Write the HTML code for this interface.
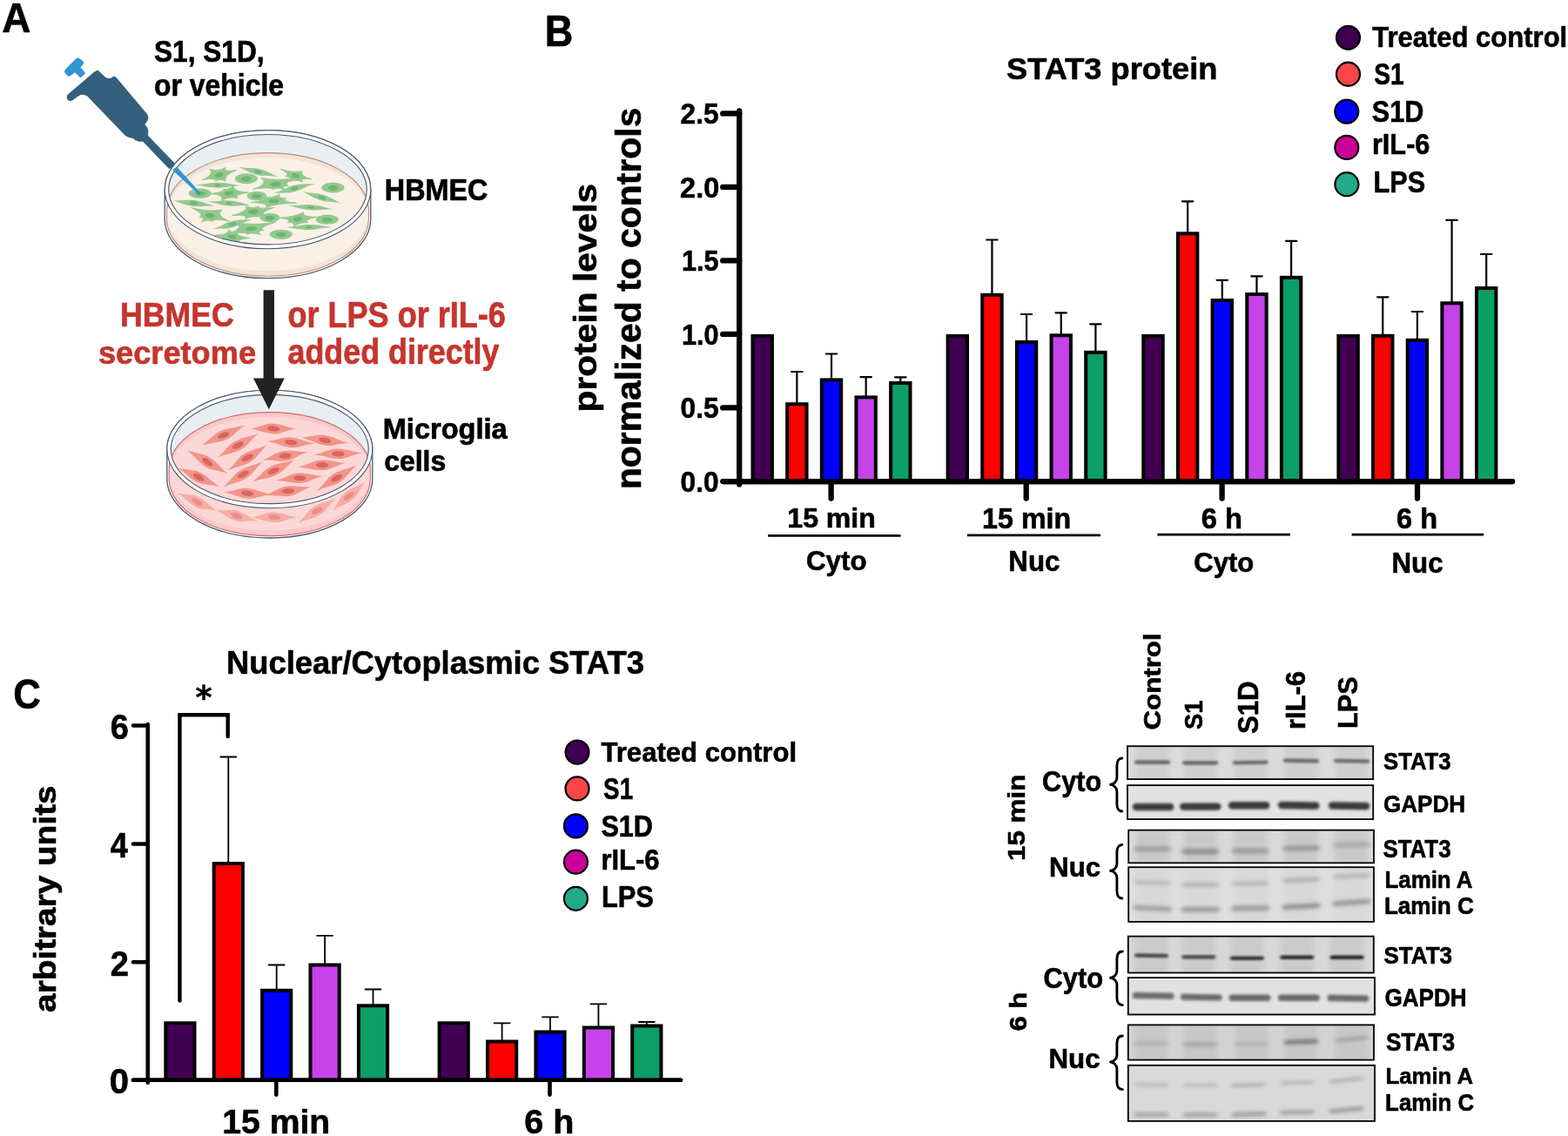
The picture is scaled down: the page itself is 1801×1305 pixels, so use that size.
<!DOCTYPE html>
<html lang="en">
<head>
<meta charset="utf-8">
<title>STAT3 protein figure</title>
<style>
html,body{margin:0;padding:0;background:#fff;}
body{width:1801px;height:1305px;overflow:hidden;}
svg{display:block;}
text{font-family:"Liberation Sans", Arial, Helvetica, sans-serif;font-weight:bold;}
</style>
</head>
<body>
<svg width="1801" height="1305" viewBox="0 0 1801 1305">
<rect width="1801" height="1305" fill="#fff"/>
<g id="panelA">
<text x="2.2" y="36.5" font-size="47.42" textLength="33.09" lengthAdjust="spacingAndGlyphs" stroke="#000" stroke-width="0.7" stroke-linejoin="round">A</text>
<text x="177.0" y="70.5" font-size="35.23" textLength="126.55" lengthAdjust="spacingAndGlyphs" stroke="#000" stroke-width="0.7" stroke-linejoin="round">S1, S1D,</text>
<text x="177.1" y="109.5" font-size="35.01" textLength="149.01" lengthAdjust="spacingAndGlyphs" stroke="#000" stroke-width="0.7" stroke-linejoin="round">or vehicle</text>
<text x="441.8" y="230.3" font-size="35.05" textLength="118.56" lengthAdjust="spacingAndGlyphs" stroke="#000" stroke-width="0.7" stroke-linejoin="round">HBMEC</text>
<text x="439.7" y="503.8" font-size="34.03" textLength="143.01" lengthAdjust="spacingAndGlyphs" stroke="#000" stroke-width="0.7" stroke-linejoin="round">Microglia</text>
<text x="441.2" y="541.4" font-size="33.66" textLength="71.02" lengthAdjust="spacingAndGlyphs" stroke="#000" stroke-width="0.7" stroke-linejoin="round">cells</text>
<text x="138.1" y="375.4" font-size="39.14" fill="#c5352d" textLength="130.57" lengthAdjust="spacingAndGlyphs" stroke="#c5352d" stroke-width="0.7" stroke-linejoin="round">HBMEC</text>
<text x="113.0" y="418.0" font-size="37.16" fill="#c5352d" textLength="181.01" lengthAdjust="spacingAndGlyphs" stroke="#c5352d" stroke-width="0.7" stroke-linejoin="round">secretome</text>
<text x="330.4" y="375.9" font-size="41.95" fill="#c5352d" textLength="250.51" lengthAdjust="spacingAndGlyphs" stroke="#c5352d" stroke-width="0.7" stroke-linejoin="round">or LPS or rIL-6</text>
<text x="330.5" y="418.3" font-size="40.26" fill="#c5352d" textLength="243.0" lengthAdjust="spacingAndGlyphs" stroke="#c5352d" stroke-width="0.7" stroke-linejoin="round">added directly</text>
<path d="M189.2 217.7 V251.7 A118.3 68.0 0 0 0 425.8 251.7 V217.7 A118.3 68.0 0 0 0 189.2 217.7Z" fill="#fdfdfd" stroke="#4a5968" stroke-width="1.3"/>
<ellipse cx="307.5" cy="217.7" rx="113.8" ry="63.2" fill="#e8eef1"/>
<clipPath id="d1dc"><path d="M189.2 217.7 V251.7 A118.3 68.0 0 0 0 425.8 251.7 V217.7 A118.3 68.0 0 0 0 189.2 217.7Z"/></clipPath>
<clipPath id="d1mc"><path d="M191.60000000000002 241.2 V251.7 A115.89999999999999 65.6 0 0 0 423.4 251.7 V241.2 A115.89999999999999 65.6 0 0 0 191.60000000000002 241.2Z"/></clipPath>
<clipPath id="d1ic"><ellipse cx="307.5" cy="217.7" rx="113.8" ry="63.2"/></clipPath>
<g clip-path="url(#d1dc)">
<g clip-path="url(#d1mc)">
<path d="M191.60000000000002 241.2 V251.7 A115.89999999999999 65.6 0 0 0 423.4 251.7 V241.2 A115.89999999999999 65.6 0 0 0 191.60000000000002 241.2Z" fill="#fbf0e5"/>
<path d="M191.60000000000002 241.2 A115.89999999999999 65.6 0 0 1 423.4 241.2 V246.7 A115.89999999999999 65.6 0 0 0 191.60000000000002 246.7Z" fill="#f2e3d6"/>
<path d="M191.60000000000002 251.7 A115.89999999999999 65.6 0 0 0 423.4 251.7 V245.7 A115.89999999999999 65.6 0 0 1 191.60000000000002 245.7Z" fill="#f2e3d6"/>
<g clip-path="url(#d1ic)">
<g transform="translate(296.7 197.5) rotate(14)"><path d="M-23.0 0.0 C-10.3 -1.1 -8.0 -3.5 0 -3.5 C9.2 -3.5 11.5 -2.1 23.0 -0.0 C10.3 1.1 8.0 3.5 0 3.5 C-9.2 3.5 -11.5 2.1 -23.0 0.0Z" fill="#92c990"/><ellipse cx="0" cy="0" rx="4.3" ry="1.9" fill="#6fb56d"/></g>
<g transform="translate(250.0 212.7) rotate(1)"><path d="M-26.0 0.0 C-11.7 -0.9 -9.1 -3.0 0 -3.0 C10.4 -3.0 13.0 -1.8 26.0 -0.0 C11.7 0.9 9.1 3.0 0 3.0 C-10.4 3.0 -13.0 1.8 -26.0 0.0Z" fill="#92c990"/><ellipse cx="0" cy="0" rx="3.7" ry="1.6" fill="#6fb56d"/></g>
<g transform="translate(338.3 216.5) rotate(-13)"><path d="M-24.0 0.0 C-10.8 -1.1 -8.4 -3.5 0 -3.5 C9.6 -3.5 12.0 -2.1 24.0 -0.0 C10.8 1.1 8.4 3.5 0 3.5 C-9.6 3.5 -12.0 2.1 -24.0 0.0Z" fill="#92c990"/><ellipse cx="0" cy="0" rx="4.3" ry="1.9" fill="#6fb56d"/></g>
<g transform="translate(370.0 227.0) rotate(17)"><path d="M-23.0 0.0 C-10.3 -1.1 -8.0 -3.5 0 -3.5 C9.2 -3.5 11.5 -2.1 23.0 -0.0 C10.3 1.1 8.0 3.5 0 3.5 C-9.2 3.5 -11.5 2.1 -23.0 0.0Z" fill="#92c990"/><ellipse cx="0" cy="0" rx="4.3" ry="1.9" fill="#6fb56d"/></g>
<g transform="translate(222.5 233.5) rotate(8)"><path d="M-24.0 0.0 C-10.8 -1.1 -8.4 -3.5 0 -3.5 C9.6 -3.5 12.0 -2.1 24.0 -0.0 C10.8 1.1 8.4 3.5 0 3.5 C-9.6 3.5 -12.0 2.1 -24.0 0.0Z" fill="#92c990"/><ellipse cx="0" cy="0" rx="4.3" ry="1.9" fill="#6fb56d"/></g>
<g transform="translate(263.3 233.5) rotate(5)"><path d="M-25.0 0.0 C-11.2 -0.9 -8.8 -3.0 0 -3.0 C10.0 -3.0 12.5 -1.8 25.0 -0.0 C11.2 0.9 8.8 3.0 0 3.0 C-10.0 3.0 -12.5 1.8 -25.0 0.0Z" fill="#92c990"/><ellipse cx="0" cy="0" rx="3.7" ry="1.6" fill="#6fb56d"/></g>
<g transform="translate(357.0 238.3) rotate(5)"><path d="M-26.0 0.0 C-11.7 -0.9 -9.1 -3.0 0 -3.0 C10.4 -3.0 13.0 -1.8 26.0 -0.0 C11.7 0.9 9.1 3.0 0 3.0 C-10.4 3.0 -13.0 1.8 -26.0 0.0Z" fill="#92c990"/><ellipse cx="0" cy="0" rx="3.7" ry="1.6" fill="#6fb56d"/></g>
<g transform="translate(267.0 257.5) rotate(-14)"><path d="M-23.0 0.0 C-10.3 -1.1 -8.0 -3.5 0 -3.5 C9.2 -3.5 11.5 -2.1 23.0 -0.0 C10.3 1.1 8.0 3.5 0 3.5 C-9.2 3.5 -11.5 2.1 -23.0 0.0Z" fill="#92c990"/><ellipse cx="0" cy="0" rx="4.3" ry="1.9" fill="#6fb56d"/></g>
<g transform="translate(355.0 261.0) rotate(0)"><path d="M-26.0 0.0 C-11.7 -0.9 -9.1 -3.0 0 -3.0 C10.4 -3.0 13.0 -1.8 26.0 -0.0 C11.7 0.9 9.1 3.0 0 3.0 C-10.4 3.0 -13.0 1.8 -26.0 0.0Z" fill="#92c990"/><ellipse cx="0" cy="0" rx="3.7" ry="1.6" fill="#6fb56d"/></g>
<g transform="translate(251.7 201.0) rotate(-8)"><path d="M20.3 -2.7 Q4.3 1.4 6.3 8.2 Q0.2 3.7 -4.8 6.5 Q-4.0 2.4 -20.0 2.9 Q-4.8 -1.3 -9.9 -8.3 Q-0.2 -3.9 8.6 -7.4 Q4.6 -2.5 20.3 -2.7Z" fill="#92c990" stroke="#92c990" stroke-width="0.8" stroke-linejoin="round"/><ellipse cx="0" cy="0" rx="5.0" ry="3.0" fill="#6fb56d"/></g>
<g transform="translate(339.5 202.0) rotate(10)"><path d="M9.1 5.6 Q0.6 3.3 -5.4 7.8 Q-2.7 2.6 -11.7 2.4 Q-4.8 -0.5 -18.5 -4.6 Q-2.0 -2.8 6.3 -6.6 Q4.0 -1.4 18.6 0.8 Q4.4 1.6 9.1 5.6Z" fill="#92c990" stroke="#92c990" stroke-width="0.8" stroke-linejoin="round"/><ellipse cx="0" cy="0" rx="4.6" ry="2.6" fill="#6fb56d"/></g>
<g transform="translate(316.7 211.5) rotate(-3)"><path d="M-26.6 4.6 Q-6.9 -0.8 -16.4 -7.9 Q1.4 -3.4 25.2 -5.8 Q6.4 -0.8 14.9 2.8 Q4.2 2.5 11.3 7.3 Q1.2 3.3 -3.8 6.0 Q-4.9 2.6 -26.6 4.6Z" fill="#92c990" stroke="#92c990" stroke-width="0.8" stroke-linejoin="round"/><ellipse cx="0" cy="0" rx="6.2" ry="2.6" fill="#6fb56d"/></g>
<g transform="translate(263.0 222.0) rotate(-8)"><path d="M9.1 7.0 Q-0.1 3.5 -9.7 7.1 Q-4.9 1.1 -21.2 -2.5 Q-4.3 -2.0 -5.8 -5.7 Q0.1 -3.4 6.2 -7.9 Q4.6 -1.4 22.4 2.2 Q5.0 2.3 9.1 7.0Z" fill="#92c990" stroke="#92c990" stroke-width="0.8" stroke-linejoin="round"/><ellipse cx="0" cy="0" rx="5.3" ry="2.6" fill="#6fb56d"/></g>
<g transform="translate(314.5 231.0) rotate(-5)"><path d="M-12.9 -5.5 Q-0.8 -3.2 7.6 -7.5 Q3.6 -2.4 14.8 -2.2 Q6.5 0.6 25.9 4.6 Q2.6 2.8 -9.3 6.6 Q-5.7 1.5 -26.5 -0.7 Q-6.3 -1.5 -12.9 -5.5Z" fill="#92c990" stroke="#92c990" stroke-width="0.8" stroke-linejoin="round"/><ellipse cx="0" cy="0" rx="6.2" ry="2.6" fill="#6fb56d"/></g>
<g transform="translate(240.8 247.5) rotate(5)"><path d="M3.2 6.7 Q-0.9 3.8 -9.1 8.7 Q-3.3 3.0 -11.5 3.1 Q-5.4 -1.0 -22.0 -7.1 Q-1.3 -3.7 13.8 -7.8 Q5.9 -0.8 23.0 4.5 Q4.2 2.8 3.2 6.7Z" fill="#92c990" stroke="#92c990" stroke-width="0.8" stroke-linejoin="round"/><ellipse cx="0" cy="0" rx="5.3" ry="3.0" fill="#6fb56d"/></g>
<g transform="translate(291.0 243.3) rotate(-5)"><path d="M-24.8 2.2 Q-5.2 -1.3 -7.9 -7.6 Q-0.2 -3.3 6.4 -5.5 Q5.0 -2.1 25.0 -2.9 Q5.9 1.2 11.8 7.7 Q0.3 3.7 -9.8 7.1 Q-5.5 2.3 -24.8 2.2Z" fill="#92c990" stroke="#92c990" stroke-width="0.8" stroke-linejoin="round"/><ellipse cx="0" cy="0" rx="6.2" ry="2.6" fill="#6fb56d"/></g>
<g transform="translate(342.0 251.7) rotate(-8)"><path d="M11.2 5.7 Q0.8 3.5 -6.1 8.3 Q-2.9 2.7 -12.2 2.3 Q-5.3 -0.5 -21.0 -4.5 Q-2.2 -2.9 7.5 -7.0 Q4.8 -1.6 22.7 0.7 Q5.4 1.6 11.2 5.7Z" fill="#92c990" stroke="#92c990" stroke-width="0.8" stroke-linejoin="round"/><ellipse cx="0" cy="0" rx="5.3" ry="2.6" fill="#6fb56d"/></g>
<g transform="translate(288.5 262.7) rotate(-3)"><path d="M-27.4 4.5 Q-7.0 -0.8 -16.4 -7.8 Q2.0 -3.4 28.9 -6.0 Q6.9 -0.8 14.5 2.7 Q4.1 2.6 11.0 7.8 Q1.1 3.6 -4.4 6.4 Q-5.1 2.7 -27.4 4.5Z" fill="#92c990" stroke="#92c990" stroke-width="0.8" stroke-linejoin="round"/><ellipse cx="0" cy="0" rx="6.7" ry="2.6" fill="#6fb56d"/></g>
<g transform="translate(266.7 272.0) rotate(12)"><path d="M-20.1 2.4 Q-4.1 -1.2 -5.6 -7.2 Q-0.1 -3.1 4.8 -5.3 Q4.1 -2.0 20.5 -2.8 Q4.7 1.2 9.0 7.5 Q0.1 3.4 -8.0 6.3 Q-4.5 2.2 -20.1 2.4Z" fill="#92c990" stroke="#92c990" stroke-width="0.8" stroke-linejoin="round"/><ellipse cx="0" cy="0" rx="4.8" ry="2.6" fill="#6fb56d"/></g>
<ellipse cx="282.8" cy="205.3" rx="13" ry="6" fill="#92c990"/><ellipse cx="282.8" cy="205.60000000000002" rx="5.9" ry="3.0" fill="#6fb56d"/>
<ellipse cx="229.7" cy="222.2" rx="13" ry="5.6" fill="#92c990"/><ellipse cx="229.7" cy="222.5" rx="5.9" ry="2.8" fill="#6fb56d"/>
<ellipse cx="382.5" cy="215.5" rx="13" ry="6" fill="#92c990"/><ellipse cx="382.5" cy="215.8" rx="5.9" ry="3.0" fill="#6fb56d"/>
<ellipse cx="375.8" cy="252.2" rx="13" ry="5.6" fill="#92c990"/><ellipse cx="375.8" cy="252.5" rx="5.9" ry="2.8" fill="#6fb56d"/>
<ellipse cx="322.8" cy="269.3" rx="13" ry="5.6" fill="#92c990"/><ellipse cx="322.8" cy="269.6" rx="5.9" ry="2.8" fill="#6fb56d"/>
<ellipse cx="295" cy="225" rx="11.5" ry="5.2" fill="#92c990"/><ellipse cx="295" cy="225.3" rx="5.2" ry="2.6" fill="#6fb56d"/>
<ellipse cx="310" cy="250" rx="11.5" ry="5.2" fill="#92c990"/><ellipse cx="310" cy="250.3" rx="5.2" ry="2.6" fill="#6fb56d"/>
</g>
</g>
<path d="M191.60000000000002 241.2 V251.7 A115.89999999999999 65.6 0 0 0 423.4 251.7 V241.2 A115.89999999999999 65.6 0 0 0 191.60000000000002 241.2Z" fill="none" stroke="#bd8b73" stroke-width="1.1"/>
</g>
<path d="M189.2 217.7 A118.3 68.0 0 1 0 425.8 217.7 A118.3 68.0 0 1 0 189.2 217.7Z M193.7 217.7 A113.8 63.2 0 1 1 421.3 217.7 A113.8 63.2 0 1 1 193.7 217.7Z" fill="#fff" fill-rule="evenodd" stroke="#4a5968" stroke-width="1.1"/>
<path d="M111 81 Q112.5 80.3 114 82 L120.5 88.2 Q124.8 91.8 129 88.6 Q131.6 86.6 134 89.4 L168.6 130.6 Q171.6 134.6 169.6 138.4 L166.4 143 Q171.2 147.6 170.2 153.4 L170.2 156 L200.5 187.2 Q201.3 188.4 200.3 189.4 L195.6 193.4 Q194.4 194.2 193.4 193.2 L164 162.4 Q158 164 153 159 Q147 158.6 143.6 155.6 L100.2 110.4 Q95.4 107.4 90.2 110.2 L83.6 115 Q80 117.2 77.6 114.4 Q75.4 111.4 78.2 108.2 L108.4 82.4 Z" fill="#35607d"/>
<path d="M198.7 195.5 L202.9 191.9 L230.2 221.9 L228.6 223.3 Z" fill="#2e96d5" stroke="#2e96d5" stroke-width="0.8" stroke-linejoin="round"/>
<path d="M75.2 79.4 L87.2 67.4 Q89.4 65.6 91.6 67.2 L95.6 70.4 Q97.2 72.2 95.6 74 L92.4 77.2 L97.6 83.2 Q98.2 84.2 97.4 85 L93.2 88.8 Q92.2 89.4 91.4 88.6 L86 83.2 L81 87 Q79 88.4 77.2 86.8 L74.8 84 Q73.2 81.6 75.2 79.4 Z" fill="#2e96d5"/>
<path d="M191.8 516.0 V550.3 A118.0 67.7 0 0 0 427.8 550.3 V516.0 A118.0 67.7 0 0 0 191.8 516.0Z" fill="#fdfdfd" stroke="#4a5968" stroke-width="1.3"/>
<ellipse cx="309.8" cy="516.0" rx="113.5" ry="62.6" fill="#e8eef1"/>
<clipPath id="d2dc"><path d="M191.8 516.0 V550.3 A118.0 67.7 0 0 0 427.8 550.3 V516.0 A118.0 67.7 0 0 0 191.8 516.0Z"/></clipPath>
<clipPath id="d2mc"><path d="M194.20000000000002 538.9 V550.3 A115.6 65.3 0 0 0 425.4 550.3 V538.9 A115.6 65.3 0 0 0 194.20000000000002 538.9Z"/></clipPath>
<clipPath id="d2ic"><ellipse cx="309.8" cy="516.0" rx="113.5" ry="62.6"/></clipPath>
<g clip-path="url(#d2dc)">
<g clip-path="url(#d2mc)">
<path d="M194.20000000000002 538.9 V550.3 A115.6 65.3 0 0 0 425.4 550.3 V538.9 A115.6 65.3 0 0 0 194.20000000000002 538.9Z" fill="#fbd8d7"/>
<path d="M194.20000000000002 538.9 A115.6 65.3 0 0 1 425.4 538.9 V544.4 A115.6 65.3 0 0 0 194.20000000000002 544.4Z" fill="#f9c9c9"/>
<path d="M194.20000000000002 550.3 A115.6 65.3 0 0 0 425.4 550.3 V544.3 A115.6 65.3 0 0 1 194.20000000000002 544.3Z" fill="#f9c9c9"/>
<g transform="translate(226.7 576.7) rotate(30)"><path d="M-25.0 2.5 C-11.2 -1.7 -8.8 -5.8 0 -5.8 C10.0 -5.8 12.5 -3.4 25.0 -2.5 C11.2 1.7 8.8 5.8 0 5.8 C-10.0 5.8 -12.5 3.4 -25.0 2.5Z" fill="#f5ada6"/><ellipse cx="0" cy="0" rx="7.1" ry="3.1" fill="#e98f8a"/></g>
<g transform="translate(271.7 592.5) rotate(20)"><path d="M-25.0 2.5 C-11.2 -1.7 -8.8 -5.8 0 -5.8 C10.0 -5.8 12.5 -3.4 25.0 -2.5 C11.2 1.7 8.8 5.8 0 5.8 C-10.0 5.8 -12.5 3.4 -25.0 2.5Z" fill="#f5ada6"/><ellipse cx="0" cy="0" rx="7.1" ry="3.1" fill="#e98f8a"/></g>
<g transform="translate(315.0 594.2) rotate(5)"><path d="M-26.0 2.5 C-11.7 -1.7 -9.1 -5.8 0 -5.8 C10.4 -5.8 13.0 -3.4 26.0 -2.5 C11.7 1.7 9.1 5.8 0 5.8 C-10.4 5.8 -13.0 3.4 -26.0 2.5Z" fill="#f5ada6"/><ellipse cx="0" cy="0" rx="7.1" ry="3.1" fill="#e98f8a"/></g>
<g transform="translate(364.2 586.7) rotate(-28)"><path d="M-26.0 2.5 C-11.7 -1.7 -9.1 -5.8 0 -5.8 C10.4 -5.8 13.0 -3.4 26.0 -2.5 C11.7 1.7 9.1 5.8 0 5.8 C-10.4 5.8 -13.0 3.4 -26.0 2.5Z" fill="#f5ada6"/><ellipse cx="0" cy="0" rx="7.1" ry="3.1" fill="#e98f8a"/></g>
<g transform="translate(400.8 570.0) rotate(-35)"><path d="M-25.0 2.5 C-11.2 -1.7 -8.8 -5.8 0 -5.8 C10.0 -5.8 12.5 -3.4 25.0 -2.5 C11.2 1.7 8.8 5.8 0 5.8 C-10.0 5.8 -12.5 3.4 -25.0 2.5Z" fill="#f5ada6"/><ellipse cx="0" cy="0" rx="7.1" ry="3.1" fill="#e98f8a"/></g>
<g clip-path="url(#d2ic)">
<g transform="translate(256.7 500.0) rotate(-20)"><path d="M-27.5 2.5 C-12.4 -1.7 -9.6 -5.8 0 -5.8 C11.0 -5.8 13.8 -3.4 27.5 -2.5 C12.4 1.7 9.6 5.8 0 5.8 C-11.0 5.8 -13.8 3.4 -27.5 2.5Z" fill="#f1948a"/><ellipse cx="0" cy="0" rx="7.1" ry="3.1" fill="#d9655f"/></g>
<g transform="translate(314.2 492.5) rotate(5)"><path d="M-26.0 2.5 C-11.7 -1.7 -9.1 -5.8 0 -5.8 C10.4 -5.8 13.0 -3.4 26.0 -2.5 C11.7 1.7 9.1 5.8 0 5.8 C-10.4 5.8 -13.0 3.4 -26.0 2.5Z" fill="#f1948a"/><ellipse cx="0" cy="0" rx="7.1" ry="3.1" fill="#d9655f"/></g>
<g transform="translate(373.3 505.8) rotate(12)"><path d="M-27.5 2.5 C-12.4 -1.7 -9.6 -5.8 0 -5.8 C11.0 -5.8 13.8 -3.4 27.5 -2.5 C12.4 1.7 9.6 5.8 0 5.8 C-11.0 5.8 -13.8 3.4 -27.5 2.5Z" fill="#f1948a"/><ellipse cx="0" cy="0" rx="7.1" ry="3.1" fill="#d9655f"/></g>
<g transform="translate(273.3 511.7) rotate(-25)"><path d="M-27.0 2.5 C-12.2 -1.7 -9.4 -5.8 0 -5.8 C10.8 -5.8 13.5 -3.4 27.0 -2.5 C12.2 1.7 9.4 5.8 0 5.8 C-10.8 5.8 -13.5 3.4 -27.0 2.5Z" fill="#f1948a"/><ellipse cx="0" cy="0" rx="7.1" ry="3.1" fill="#d9655f"/></g>
<g transform="translate(334.2 508.3) rotate(8)"><path d="M-27.0 2.5 C-12.2 -1.7 -9.4 -5.8 0 -5.8 C10.8 -5.8 13.5 -3.4 27.0 -2.5 C12.2 1.7 9.4 5.8 0 5.8 C-10.8 5.8 -13.5 3.4 -27.0 2.5Z" fill="#f1948a"/><ellipse cx="0" cy="0" rx="7.1" ry="3.1" fill="#d9655f"/></g>
<g transform="translate(388.3 521.3) rotate(3)"><path d="M-27.5 2.5 C-12.4 -1.7 -9.6 -5.8 0 -5.8 C11.0 -5.8 13.8 -3.4 27.5 -2.5 C12.4 1.7 9.6 5.8 0 5.8 C-11.0 5.8 -13.8 3.4 -27.5 2.5Z" fill="#f1948a"/><ellipse cx="0" cy="0" rx="7.1" ry="3.1" fill="#d9655f"/></g>
<g transform="translate(238.3 530.8) rotate(35)"><path d="M-27.0 2.5 C-12.2 -1.7 -9.4 -5.8 0 -5.8 C10.8 -5.8 13.5 -3.4 27.0 -2.5 C12.2 1.7 9.4 5.8 0 5.8 C-10.8 5.8 -13.5 3.4 -27.0 2.5Z" fill="#f1948a"/><ellipse cx="0" cy="0" rx="7.1" ry="3.1" fill="#d9655f"/></g>
<g transform="translate(284.2 525.8) rotate(-28)"><path d="M-27.0 2.5 C-12.2 -1.7 -9.4 -5.8 0 -5.8 C10.8 -5.8 13.5 -3.4 27.0 -2.5 C12.2 1.7 9.4 5.8 0 5.8 C-10.8 5.8 -13.5 3.4 -27.0 2.5Z" fill="#f1948a"/><ellipse cx="0" cy="0" rx="7.1" ry="3.1" fill="#d9655f"/></g>
<g transform="translate(327.5 523.7) rotate(-5)"><path d="M-27.0 2.5 C-12.2 -1.7 -9.4 -5.8 0 -5.8 C10.8 -5.8 13.5 -3.4 27.0 -2.5 C12.2 1.7 9.4 5.8 0 5.8 C-10.8 5.8 -13.5 3.4 -27.0 2.5Z" fill="#f1948a"/><ellipse cx="0" cy="0" rx="7.1" ry="3.1" fill="#d9655f"/></g>
<g transform="translate(370.0 534.2) rotate(0)"><path d="M-27.5 2.5 C-12.4 -1.7 -9.6 -5.8 0 -5.8 C11.0 -5.8 13.8 -3.4 27.5 -2.5 C12.4 1.7 9.6 5.8 0 5.8 C-11.0 5.8 -13.8 3.4 -27.5 2.5Z" fill="#f1948a"/><ellipse cx="0" cy="0" rx="7.1" ry="3.1" fill="#d9655f"/></g>
<g transform="translate(228.3 548.3) rotate(30)"><path d="M-26.0 2.5 C-11.7 -1.7 -9.1 -5.8 0 -5.8 C10.4 -5.8 13.0 -3.4 26.0 -2.5 C11.7 1.7 9.1 5.8 0 5.8 C-10.4 5.8 -13.0 3.4 -26.0 2.5Z" fill="#f1948a"/><ellipse cx="0" cy="0" rx="7.1" ry="3.1" fill="#d9655f"/></g>
<g transform="translate(279.2 545.0) rotate(-28)"><path d="M-27.0 2.5 C-12.2 -1.7 -9.4 -5.8 0 -5.8 C10.8 -5.8 13.5 -3.4 27.0 -2.5 C12.2 1.7 9.4 5.8 0 5.8 C-10.8 5.8 -13.5 3.4 -27.0 2.5Z" fill="#f1948a"/><ellipse cx="0" cy="0" rx="7.1" ry="3.1" fill="#d9655f"/></g>
<g transform="translate(314.2 540.8) rotate(-22)"><path d="M-27.0 2.5 C-12.2 -1.7 -9.4 -5.8 0 -5.8 C10.8 -5.8 13.5 -3.4 27.0 -2.5 C12.2 1.7 9.4 5.8 0 5.8 C-10.8 5.8 -13.5 3.4 -27.0 2.5Z" fill="#f1948a"/><ellipse cx="0" cy="0" rx="7.1" ry="3.1" fill="#d9655f"/></g>
<g transform="translate(344.2 549.2) rotate(0)"><path d="M-27.0 2.5 C-12.2 -1.7 -9.4 -5.8 0 -5.8 C10.8 -5.8 13.5 -3.4 27.0 -2.5 C12.2 1.7 9.4 5.8 0 5.8 C-10.8 5.8 -13.5 3.4 -27.0 2.5Z" fill="#f1948a"/><ellipse cx="0" cy="0" rx="7.1" ry="3.1" fill="#d9655f"/></g>
<g transform="translate(386.7 549.2) rotate(-28)"><path d="M-27.0 2.5 C-12.2 -1.7 -9.4 -5.8 0 -5.8 C10.8 -5.8 13.5 -3.4 27.0 -2.5 C12.2 1.7 9.4 5.8 0 5.8 C-10.8 5.8 -13.5 3.4 -27.0 2.5Z" fill="#f1948a"/><ellipse cx="0" cy="0" rx="7.1" ry="3.1" fill="#d9655f"/></g>
<g transform="translate(284.2 566.7) rotate(8)"><path d="M-27.0 2.5 C-12.2 -1.7 -9.4 -5.8 0 -5.8 C10.8 -5.8 13.5 -3.4 27.0 -2.5 C12.2 1.7 9.4 5.8 0 5.8 C-10.8 5.8 -13.5 3.4 -27.0 2.5Z" fill="#f1948a"/><ellipse cx="0" cy="0" rx="7.1" ry="3.1" fill="#d9655f"/></g>
<g transform="translate(330.8 564.2) rotate(-5)"><path d="M-27.0 2.5 C-12.2 -1.7 -9.4 -5.8 0 -5.8 C10.8 -5.8 13.5 -3.4 27.0 -2.5 C12.2 1.7 9.4 5.8 0 5.8 C-10.8 5.8 -13.5 3.4 -27.0 2.5Z" fill="#f1948a"/><ellipse cx="0" cy="0" rx="7.1" ry="3.1" fill="#d9655f"/></g>
</g>
</g>
<path d="M194.20000000000002 538.9 V550.3 A115.6 65.3 0 0 0 425.4 550.3 V538.9 A115.6 65.3 0 0 0 194.20000000000002 538.9Z" fill="none" stroke="#cf6a6e" stroke-width="1.1"/>
</g>
<path d="M191.8 516.0 A118.0 67.7 0 1 0 427.8 516.0 A118.0 67.7 0 1 0 191.8 516.0Z M196.3 516.0 A113.5 62.6 0 1 1 423.3 516.0 A113.5 62.6 0 1 1 196.3 516.0Z" fill="#fff" fill-rule="evenodd" stroke="#4a5968" stroke-width="1.1"/>
<path d="M302.6 333.3 H315 V434.4 H326.8 L308.8 470.2 L291 434.4 H302.6 Z" fill="#222"/>
</g>
<g id="panelB">
<text x="625.8" y="53.2" font-size="50.28" textLength="32.55" lengthAdjust="spacingAndGlyphs" stroke="#000" stroke-width="0.6" stroke-linejoin="round">B</text>
<text x="1156.0" y="91.4" font-size="35.47" textLength="242.52" lengthAdjust="spacingAndGlyphs" stroke="#000" stroke-width="0.6" stroke-linejoin="round">STAT3 protein</text>
<text x="684.9" y="473.4" font-size="37.78" textLength="262.54" lengthAdjust="spacingAndGlyphs" transform="rotate(-90 684.9 473.4)" stroke="#000" stroke-width="0.6" stroke-linejoin="round">protein levels</text>
<text x="736.2" y="562.1" font-size="40.6" textLength="438.53" lengthAdjust="spacingAndGlyphs" transform="rotate(-90 736.2 562.1)" stroke="#000" stroke-width="0.6" stroke-linejoin="round">normalized to controls</text>
<g stroke="#000" stroke-width="6.3" stroke-linecap="round" fill="none">
<path d="M849.2 127.3 V556.4"/>
<path d="M830.5 553.1 H1737"/>
<path d="M830.2 130.45 H849.2"/>
<path d="M830.2 214.95 H849.2"/>
<path d="M830.2 299.45 H849.2"/>
<path d="M830.2 383.95 H849.2"/>
<path d="M830.2 468.45 H849.2"/>
<path d="M954.6 553.1 V572.6"/>
<path d="M1178.7 553.1 V572.6"/>
<path d="M1403.6 553.1 V572.6"/>
<path d="M1628.0 553.1 V572.6"/>
</g>
<text x="781.6" y="142.0" font-size="33.69" textLength="44.03" lengthAdjust="spacingAndGlyphs" stroke="#000" stroke-width="0.6" stroke-linejoin="round">2.5</text>
<text x="781.1" y="226.5" font-size="33.69" textLength="45.11" lengthAdjust="spacingAndGlyphs" stroke="#000" stroke-width="0.6" stroke-linejoin="round">2.0</text>
<text x="783.0" y="311.0" font-size="33.69" textLength="42.59" lengthAdjust="spacingAndGlyphs" stroke="#000" stroke-width="0.6" stroke-linejoin="round">1.5</text>
<text x="783.0" y="395.5" font-size="33.69" textLength="42.64" lengthAdjust="spacingAndGlyphs" stroke="#000" stroke-width="0.6" stroke-linejoin="round">1.0</text>
<text x="781.6" y="480.0" font-size="33.69" textLength="44.03" lengthAdjust="spacingAndGlyphs" stroke="#000" stroke-width="0.6" stroke-linejoin="round">0.5</text>
<text x="781.6" y="564.5" font-size="33.69" textLength="44.06" lengthAdjust="spacingAndGlyphs" stroke="#000" stroke-width="0.6" stroke-linejoin="round">0.0</text>
<rect x="864.50" y="385.90" width="22.40" height="167.20" fill="#420052" stroke="#000" stroke-width="4.0"/>
<path d="M915.35 463.2 V427.0 M909.15 427.0 H921.55" stroke="#000" stroke-width="2.2" stroke-linecap="round" fill="none"/>
<rect x="904.15" y="464.20" width="22.40" height="88.90" fill="#ff0000" stroke="#000" stroke-width="4.0"/>
<path d="M955.00 435.4 V406.5 M948.80 406.5 H961.20" stroke="#000" stroke-width="2.2" stroke-linecap="round" fill="none"/>
<rect x="943.80" y="436.40" width="22.40" height="116.70" fill="#0000ff" stroke="#000" stroke-width="4.0"/>
<path d="M994.65 455.4 V433.2 M988.45 433.2 H1000.85" stroke="#000" stroke-width="2.2" stroke-linecap="round" fill="none"/>
<rect x="983.45" y="456.40" width="22.40" height="96.70" fill="#c543e8" stroke="#000" stroke-width="4.0"/>
<path d="M1034.30 439.0 V433.4 M1028.10 433.4 H1040.50" stroke="#000" stroke-width="2.2" stroke-linecap="round" fill="none"/>
<rect x="1023.10" y="440.00" width="22.40" height="113.10" fill="#0b9e66" stroke="#000" stroke-width="4.0"/>
<rect x="1088.60" y="385.90" width="22.40" height="167.20" fill="#420052" stroke="#000" stroke-width="4.0"/>
<path d="M1139.45 337.8 V275.5 M1133.25 275.5 H1145.65" stroke="#000" stroke-width="2.2" stroke-linecap="round" fill="none"/>
<rect x="1128.25" y="338.80" width="22.40" height="214.30" fill="#ff0000" stroke="#000" stroke-width="4.0"/>
<path d="M1179.10 392.0 V361.0 M1172.90 361.0 H1185.30" stroke="#000" stroke-width="2.2" stroke-linecap="round" fill="none"/>
<rect x="1167.90" y="393.00" width="22.40" height="160.10" fill="#0000ff" stroke="#000" stroke-width="4.0"/>
<path d="M1218.75 384.3 V359.3 M1212.55 359.3 H1224.95" stroke="#000" stroke-width="2.2" stroke-linecap="round" fill="none"/>
<rect x="1207.55" y="385.30" width="22.40" height="167.80" fill="#c543e8" stroke="#000" stroke-width="4.0"/>
<path d="M1258.40 403.8 V372.3 M1252.20 372.3 H1264.60" stroke="#000" stroke-width="2.2" stroke-linecap="round" fill="none"/>
<rect x="1247.20" y="404.80" width="22.40" height="148.30" fill="#0b9e66" stroke="#000" stroke-width="4.0"/>
<rect x="1313.30" y="385.90" width="22.40" height="167.20" fill="#420052" stroke="#000" stroke-width="4.0"/>
<path d="M1364.15 267.3 V231.3 M1357.95 231.3 H1370.35" stroke="#000" stroke-width="2.2" stroke-linecap="round" fill="none"/>
<rect x="1352.95" y="268.30" width="22.40" height="284.80" fill="#ff0000" stroke="#000" stroke-width="4.0"/>
<path d="M1403.80 344.0 V321.8 M1397.60 321.8 H1410.00" stroke="#000" stroke-width="2.2" stroke-linecap="round" fill="none"/>
<rect x="1392.60" y="345.00" width="22.40" height="208.10" fill="#0000ff" stroke="#000" stroke-width="4.0"/>
<path d="M1443.45 337.0 V317.3 M1437.25 317.3 H1449.65" stroke="#000" stroke-width="2.2" stroke-linecap="round" fill="none"/>
<rect x="1432.25" y="338.00" width="22.40" height="215.10" fill="#c543e8" stroke="#000" stroke-width="4.0"/>
<path d="M1483.10 317.8 V276.8 M1476.90 276.8 H1489.30" stroke="#000" stroke-width="2.2" stroke-linecap="round" fill="none"/>
<rect x="1471.90" y="318.80" width="22.40" height="234.30" fill="#0b9e66" stroke="#000" stroke-width="4.0"/>
<rect x="1537.40" y="385.90" width="22.40" height="167.20" fill="#420052" stroke="#000" stroke-width="4.0"/>
<path d="M1588.25 384.8 V341.3 M1582.05 341.3 H1594.45" stroke="#000" stroke-width="2.2" stroke-linecap="round" fill="none"/>
<rect x="1577.05" y="385.80" width="22.40" height="167.30" fill="#ff0000" stroke="#000" stroke-width="4.0"/>
<path d="M1627.90 389.8 V358.0 M1621.70 358.0 H1634.10" stroke="#000" stroke-width="2.2" stroke-linecap="round" fill="none"/>
<rect x="1616.70" y="390.80" width="22.40" height="162.30" fill="#0000ff" stroke="#000" stroke-width="4.0"/>
<path d="M1667.55 347.3 V252.8 M1661.35 252.8 H1673.75" stroke="#000" stroke-width="2.2" stroke-linecap="round" fill="none"/>
<rect x="1656.35" y="348.30" width="22.40" height="204.80" fill="#c543e8" stroke="#000" stroke-width="4.0"/>
<path d="M1707.20 330.0 V292.0 M1701.00 292.0 H1713.40" stroke="#000" stroke-width="2.2" stroke-linecap="round" fill="none"/>
<rect x="1696.00" y="331.00" width="22.40" height="222.10" fill="#0b9e66" stroke="#000" stroke-width="4.0"/>
<path d="M830.5 553.1 H1737" stroke="#000" stroke-width="6.3" stroke-linecap="round"/>
<text x="904.3" y="606.1" font-size="32.21" textLength="101.58" lengthAdjust="spacingAndGlyphs" stroke="#000" stroke-width="0.6" stroke-linejoin="round">15 min</text>
<text x="1128.1" y="606.8" font-size="32.91" textLength="102.1" lengthAdjust="spacingAndGlyphs" stroke="#000" stroke-width="0.6" stroke-linejoin="round">15 min</text>
<text x="1379.7" y="606.8" font-size="32.91" textLength="47.2" lengthAdjust="spacingAndGlyphs" stroke="#000" stroke-width="0.6" stroke-linejoin="round">6 h</text>
<text x="1604.1" y="606.8" font-size="32.91" textLength="47.1" lengthAdjust="spacingAndGlyphs" stroke="#000" stroke-width="0.6" stroke-linejoin="round">6 h</text>
<text x="926.0" y="655.0" font-size="32.0" textLength="69.55" lengthAdjust="spacingAndGlyphs" stroke="#000" stroke-width="0.6" stroke-linejoin="round">Cyto</text>
<text x="1158.3" y="656.0" font-size="32.94" textLength="59.08" lengthAdjust="spacingAndGlyphs" stroke="#000" stroke-width="0.6" stroke-linejoin="round">Nuc</text>
<text x="1371.3" y="656.8" font-size="30.71" textLength="69.04" lengthAdjust="spacingAndGlyphs" stroke="#000" stroke-width="0.6" stroke-linejoin="round">Cyto</text>
<text x="1598.5" y="657.5" font-size="32.94" textLength="59.07" lengthAdjust="spacingAndGlyphs" stroke="#000" stroke-width="0.6" stroke-linejoin="round">Nuc</text>
<g stroke="#000" stroke-width="2.9" fill="none">
<path d="M882.2 615.4 H1034.5"/>
<path d="M1111 614.9 H1264"/>
<path d="M1329.4 614.1 H1481.8"/>
<path d="M1552.5 614.1 H1704.3"/>
</g>
<circle cx="1548.5" cy="43.3" r="13.5" fill="#3d0050" stroke="#000" stroke-width="2.2"/>
<circle cx="1548.5" cy="85.2" r="13.5" fill="#fa4646" stroke="#000" stroke-width="2.2"/>
<circle cx="1546.8" cy="128.1" r="13.5" fill="#0000ff" stroke="#000" stroke-width="2.2"/>
<circle cx="1546.8" cy="169.4" r="13.5" fill="#cc0099" stroke="#000" stroke-width="2.2"/>
<circle cx="1546.9" cy="211.7" r="13.5" fill="#22aa88" stroke="#000" stroke-width="2.2"/>
<text x="1576.2" y="53.9" font-size="32.9" textLength="224.01" lengthAdjust="spacingAndGlyphs" stroke="#000" stroke-width="0.6" stroke-linejoin="round">Treated control</text>
<text x="1578.2" y="97.4" font-size="34.33" textLength="34.53" lengthAdjust="spacingAndGlyphs" stroke="#000" stroke-width="0.6" stroke-linejoin="round">S1</text>
<text x="1575.8" y="139.8" font-size="34.34" textLength="59.55" lengthAdjust="spacingAndGlyphs" stroke="#000" stroke-width="0.6" stroke-linejoin="round">S1D</text>
<text x="1575.9" y="177.4" font-size="32.96" textLength="66.55" lengthAdjust="spacingAndGlyphs" stroke="#000" stroke-width="0.6" stroke-linejoin="round">rIL-6</text>
<text x="1577.5" y="220.6" font-size="35.76" textLength="59.6" lengthAdjust="spacingAndGlyphs" stroke="#000" stroke-width="0.6" stroke-linejoin="round">LPS</text>
</g>
<g id="panelC">
<text x="15.2" y="814.1" font-size="48.71" textLength="31.59" lengthAdjust="spacingAndGlyphs" stroke="#000" stroke-width="0.6" stroke-linejoin="round">C</text>
<text x="259.9" y="774.3" font-size="37.34" textLength="480.02" lengthAdjust="spacingAndGlyphs" stroke="#000" stroke-width="0.6" stroke-linejoin="round">Nuclear/Cytoplasmic STAT3</text>
<text x="64.1" y="1162.9" font-size="34.47" textLength="260.52" lengthAdjust="spacingAndGlyphs" transform="rotate(-90 64.1 1162.9)" stroke="#000" stroke-width="0.6" stroke-linejoin="round">arbitrary units</text>
<g stroke="#000" stroke-width="4.6" stroke-linecap="round" fill="none">
<path d="M169.75 832 V1243.7"/>
<path d="M153 1240.7 H782"/>
<path d="M153 833.5 H169.75"/>
<path d="M153 969.5 H169.75"/>
<path d="M153 1105.3 H169.75"/>
<path d="M317.3 1240.7 V1257.6"/>
<path d="M631.5 1240.7 V1257.6"/>
</g>
<text x="126.7" y="849.1" font-size="41.22" textLength="21.14" lengthAdjust="spacingAndGlyphs" stroke="#000" stroke-width="0.6" stroke-linejoin="round">6</text>
<text x="126.7" y="985.1" font-size="41.22" textLength="20.03" lengthAdjust="spacingAndGlyphs" stroke="#000" stroke-width="0.6" stroke-linejoin="round">4</text>
<text x="126.7" y="1120.6" font-size="41.22" textLength="21.14" lengthAdjust="spacingAndGlyphs" stroke="#000" stroke-width="0.6" stroke-linejoin="round">2</text>
<text x="125.7" y="1256.1" font-size="41.22" textLength="22.26" lengthAdjust="spacingAndGlyphs" stroke="#000" stroke-width="0.6" stroke-linejoin="round">0</text>
<rect x="190.30" y="1175.30" width="33.20" height="65.40" fill="#420052" stroke="#000" stroke-width="4.0"/>
<path d="M262.30 991.0 V869.5 M253.30 869.5 H271.30" stroke="#000" stroke-width="1.8" stroke-linecap="round" fill="none"/>
<rect x="245.70" y="992.00" width="33.20" height="248.70" fill="#ff0000" stroke="#000" stroke-width="4.0"/>
<path d="M317.70 1136.8 V1108.5 M308.70 1108.5 H326.70" stroke="#000" stroke-width="1.8" stroke-linecap="round" fill="none"/>
<rect x="301.10" y="1137.80" width="33.20" height="102.90" fill="#0000ff" stroke="#000" stroke-width="4.0"/>
<path d="M373.10 1107.5 V1074.8 M364.10 1074.8 H382.10" stroke="#000" stroke-width="1.8" stroke-linecap="round" fill="none"/>
<rect x="356.50" y="1108.50" width="33.20" height="132.20" fill="#c543e8" stroke="#000" stroke-width="4.0"/>
<path d="M428.50 1154.3 V1136.5 M419.50 1136.5 H437.50" stroke="#000" stroke-width="1.8" stroke-linecap="round" fill="none"/>
<rect x="411.90" y="1155.30" width="33.20" height="85.40" fill="#0b9e66" stroke="#000" stroke-width="4.0"/>
<rect x="504.60" y="1175.30" width="33.20" height="65.40" fill="#420052" stroke="#000" stroke-width="4.0"/>
<path d="M576.60 1195.5 V1175.3 M567.60 1175.3 H585.60" stroke="#000" stroke-width="1.8" stroke-linecap="round" fill="none"/>
<rect x="560.00" y="1196.50" width="33.20" height="44.20" fill="#ff0000" stroke="#000" stroke-width="4.0"/>
<path d="M632.00 1184.5 V1168.3 M623.00 1168.3 H641.00" stroke="#000" stroke-width="1.8" stroke-linecap="round" fill="none"/>
<rect x="615.40" y="1185.50" width="33.20" height="55.20" fill="#0000ff" stroke="#000" stroke-width="4.0"/>
<path d="M687.40 1179.5 V1153.3 M678.40 1153.3 H696.40" stroke="#000" stroke-width="1.8" stroke-linecap="round" fill="none"/>
<rect x="670.80" y="1180.50" width="33.20" height="60.20" fill="#c543e8" stroke="#000" stroke-width="4.0"/>
<path d="M742.80 1177.5 V1174.0 M733.80 1174.0 H751.80" stroke="#000" stroke-width="1.8" stroke-linecap="round" fill="none"/>
<rect x="726.20" y="1178.50" width="33.20" height="62.20" fill="#0b9e66" stroke="#000" stroke-width="4.0"/>
<path d="M153 1240.7 H782" stroke="#000" stroke-width="4.6" stroke-linecap="round"/>
<path d="M206.45 1149.5 V821.2 H261.7 V846" stroke="#000" stroke-width="4.4" stroke-linecap="round" stroke-linejoin="miter" fill="none"/>
<text x="224.5" y="813.6" font-size="38.06" textLength="19.06" lengthAdjust="spacingAndGlyphs" style="font-family:'DejaVu Sans',sans-serif" stroke="#000" stroke-width="0.4" stroke-linejoin="round">*</text>
<text x="255.2" y="1301.7" font-size="38.43" textLength="124.11" lengthAdjust="spacingAndGlyphs" stroke="#000" stroke-width="0.6" stroke-linejoin="round">15 min</text>
<text x="602.3" y="1301.7" font-size="38.43" textLength="57.13" lengthAdjust="spacingAndGlyphs" stroke="#000" stroke-width="0.6" stroke-linejoin="round">6 h</text>
<circle cx="663.0" cy="864.1" r="13.5" fill="#3d0050" stroke="#000" stroke-width="2.2"/>
<circle cx="663.0" cy="905.9" r="13.5" fill="#fa4646" stroke="#000" stroke-width="2.2"/>
<circle cx="661.4" cy="948.9" r="13.5" fill="#0000ff" stroke="#000" stroke-width="2.2"/>
<circle cx="661.4" cy="990.2" r="13.5" fill="#cc0099" stroke="#000" stroke-width="2.2"/>
<circle cx="661.4" cy="1032.3" r="13.5" fill="#22aa88" stroke="#000" stroke-width="2.2"/>
<text x="690.5" y="874.6" font-size="32.21" textLength="224.52" lengthAdjust="spacingAndGlyphs" stroke="#000" stroke-width="0.6" stroke-linejoin="round">Treated control</text>
<text x="693.1" y="918.1" font-size="35.76" textLength="34.01" lengthAdjust="spacingAndGlyphs" stroke="#000" stroke-width="0.6" stroke-linejoin="round">S1</text>
<text x="690.4" y="960.6" font-size="35.08" textLength="59.53" lengthAdjust="spacingAndGlyphs" stroke="#000" stroke-width="0.6" stroke-linejoin="round">S1D</text>
<text x="690.4" y="999.0" font-size="32.94" textLength="67.07" lengthAdjust="spacingAndGlyphs" stroke="#000" stroke-width="0.6" stroke-linejoin="round">rIL-6</text>
<text x="690.9" y="1041.7" font-size="35.06" textLength="60.08" lengthAdjust="spacingAndGlyphs" stroke="#000" stroke-width="0.6" stroke-linejoin="round">LPS</text>
</g>
<g id="panelD">
<defs>
<filter id="bl1" x="-20%" y="-300%" width="140%" height="700%"><feGaussianBlur stdDeviation="1.8 1.2"/></filter>
<filter id="bl2" x="-20%" y="-300%" width="140%" height="700%"><feGaussianBlur stdDeviation="2.6 2.0"/></filter>
<filter id="bl3" x="-30%" y="-30%" width="160%" height="160%"><feGaussianBlur stdDeviation="3.2 2"/></filter>
<filter id="bl4" x="-20%" y="-300%" width="140%" height="700%"><feGaussianBlur stdDeviation="1.6 1.5"/></filter>
</defs>
<text x="1333.1" y="838.5" font-size="28.5" textLength="111.08" lengthAdjust="spacingAndGlyphs" transform="rotate(-90 1333.1 838.5)" stroke="#000" stroke-width="0.6" stroke-linejoin="round">Control</text>
<text x="1381.4" y="838.0" font-size="30.27" textLength="33.53" lengthAdjust="spacingAndGlyphs" transform="rotate(-90 1381.4 838.0)" stroke="#000" stroke-width="0.6" stroke-linejoin="round">S1</text>
<text x="1445.5" y="843.1" font-size="32.93" textLength="60.56" lengthAdjust="spacingAndGlyphs" transform="rotate(-90 1445.5 843.1)" stroke="#000" stroke-width="0.6" stroke-linejoin="round">S1D</text>
<text x="1499.1" y="838.0" font-size="31.04" textLength="67.06" lengthAdjust="spacingAndGlyphs" transform="rotate(-90 1499.1 838.0)" stroke="#000" stroke-width="0.6" stroke-linejoin="round">rIL-6</text>
<text x="1558.5" y="837.0" font-size="31.56" textLength="59.6" lengthAdjust="spacingAndGlyphs" transform="rotate(-90 1558.5 837.0)" stroke="#000" stroke-width="0.6" stroke-linejoin="round">LPS</text>
<text x="1177.5" y="989.1" font-size="27.83" textLength="99.62" lengthAdjust="spacingAndGlyphs" transform="rotate(-90 1177.5 989.1)" stroke="#000" stroke-width="0.6" stroke-linejoin="round">15 min</text>
<text x="1178.5" y="1184.5" font-size="28.41" textLength="44.64" lengthAdjust="spacingAndGlyphs" transform="rotate(-90 1178.5 1184.5)" stroke="#000" stroke-width="0.6" stroke-linejoin="round">6 h</text>
<text x="1197.1" y="909.0" font-size="33.14" textLength="68.02" lengthAdjust="spacingAndGlyphs" stroke="#000" stroke-width="0.6" stroke-linejoin="round">Cyto</text>
<text x="1205.1" y="1006.5" font-size="31.71" textLength="59.08" lengthAdjust="spacingAndGlyphs" stroke="#000" stroke-width="0.6" stroke-linejoin="round">Nuc</text>
<text x="1198.6" y="1135.0" font-size="32.57" textLength="68.53" lengthAdjust="spacingAndGlyphs" stroke="#000" stroke-width="0.6" stroke-linejoin="round">Cyto</text>
<text x="1204.5" y="1226.5" font-size="31.71" textLength="59.09" lengthAdjust="spacingAndGlyphs" stroke="#000" stroke-width="0.6" stroke-linejoin="round">Nuc</text>
<path d="M1288.8 871.0 C1285.3999999999999 871.0 1282.8999999999999 874.0 1282.8999999999999 879.5 V893.3 C1282.8999999999999 897.8 1279.1 901.0 1275.6 901.3 C1279.1 901.5999999999999 1282.8999999999999 904.8 1282.8999999999999 909.3 V923.5 C1282.8999999999999 929.0 1285.3999999999999 932.0 1288.8 932.0" stroke="#000" stroke-width="2.9" fill="none" stroke-linecap="round" stroke-linejoin="round"/>
<path d="M1288.8 970.5 C1285.3999999999999 970.5 1282.8999999999999 973.5 1282.8999999999999 979.0 V992.3 C1282.8999999999999 996.8 1279.1 1000.0 1275.6 1000.3 C1279.1 1000.5999999999999 1282.8999999999999 1003.8 1282.8999999999999 1008.3 V1023.5 C1282.8999999999999 1029.0 1285.3999999999999 1032.0 1288.8 1032.0" stroke="#000" stroke-width="2.9" fill="none" stroke-linecap="round" stroke-linejoin="round"/>
<path d="M1289.3 1093.0 C1285.3999999999999 1093.0 1282.8999999999999 1096.0 1282.8999999999999 1101.5 V1115.3 C1282.8999999999999 1119.8 1279.1 1123.0 1275.6 1123.3 C1279.1 1123.6 1282.8999999999999 1126.8 1282.8999999999999 1131.3 V1146.1 C1282.8999999999999 1151.6 1285.3999999999999 1154.6 1289.3 1154.6" stroke="#000" stroke-width="2.9" fill="none" stroke-linecap="round" stroke-linejoin="round"/>
<path d="M1289.3 1190.0 C1285.3999999999999 1190.0 1282.8999999999999 1193.0 1282.8999999999999 1198.5 V1212.0 C1282.8999999999999 1216.5 1279.1 1219.7 1275.6 1220.0 C1279.1 1220.3 1282.8999999999999 1223.5 1282.8999999999999 1228.0 V1243.1 C1282.8999999999999 1248.6 1285.3999999999999 1251.6 1289.3 1251.6" stroke="#000" stroke-width="2.9" fill="none" stroke-linecap="round" stroke-linejoin="round"/>
<clipPath id="bc0"><rect x="1295.0" y="857.2" width="282.2" height="37.9"/></clipPath>
<rect x="1295.0" y="857.2" width="282.2" height="37.9" fill="#dbdbdb"/>
<g clip-path="url(#bc0)">
<rect x="1304.7" y="849.2" width="38" height="53.9" fill="#cfcfcf" filter="url(#bl3)"/>
<rect x="1359.7" y="849.2" width="38" height="53.9" fill="#cfcfcf" filter="url(#bl3)"/>
<rect x="1417.2" y="849.2" width="38" height="53.9" fill="#cfcfcf" filter="url(#bl3)"/>
<rect x="1475.5" y="849.2" width="38" height="53.9" fill="#cfcfcf" filter="url(#bl3)"/>
<rect x="1533.5" y="849.2" width="38" height="53.9" fill="#cfcfcf" filter="url(#bl3)"/>
<rect x="1303.2" y="873.30" width="41.0" height="4.6" rx="2.3" fill="#6e6e6e" filter="url(#bl1)"/>
<rect x="1358.2" y="874.10" width="41.0" height="4.6" rx="2.3" fill="#6e6e6e" filter="url(#bl1)"/>
<rect x="1415.7" y="873.70" width="41.0" height="4.6" rx="2.3" fill="#6e6e6e" filter="url(#bl1)" transform="rotate(-1 1436.2 876.0)"/>
<rect x="1474.0" y="871.60" width="41.0" height="4.6" rx="2.3" fill="#6e6e6e" filter="url(#bl1)" transform="rotate(1 1494.5 873.9)"/>
<rect x="1532.0" y="872.00" width="41.0" height="4.6" rx="2.3" fill="#6e6e6e" filter="url(#bl1)" transform="rotate(1 1552.5 874.3)"/>
</g>
<rect x="1295.0" y="857.2" width="282.2" height="37.9" fill="none" stroke="#000" stroke-width="1.8"/>
<clipPath id="bc1"><rect x="1295.0" y="902.1" width="282.2" height="39.0"/></clipPath>
<rect x="1295.0" y="902.1" width="282.2" height="39.0" fill="#e2e2e2"/>
<g clip-path="url(#bc1)">
<rect x="1300.8" y="922.80" width="47.6" height="8.4" rx="4.2" fill="#3b3b3b" filter="url(#bl4)"/>
<rect x="1355.0" y="922.40" width="47.6" height="8.4" rx="4.2" fill="#3b3b3b" filter="url(#bl4)"/>
<rect x="1410.8" y="921.10" width="47.6" height="8.4" rx="4.2" fill="#3b3b3b" filter="url(#bl4)"/>
<rect x="1467.9" y="921.00" width="47.6" height="8.4" rx="4.2" fill="#3b3b3b" filter="url(#bl4)" transform="rotate(1 1491.7 925.2)"/>
<rect x="1525.8" y="921.50" width="47.6" height="8.4" rx="4.2" fill="#3b3b3b" filter="url(#bl4)" transform="rotate(1 1549.6 925.7)"/>
</g>
<rect x="1295.0" y="902.1" width="282.2" height="39.0" fill="none" stroke="#000" stroke-width="1.8"/>
<clipPath id="bc2"><rect x="1296.2" y="953.6" width="281.8" height="37.7"/></clipPath>
<rect x="1296.2" y="953.6" width="281.8" height="37.7" fill="#d9d9d9"/>
<g clip-path="url(#bc2)">
<rect x="1304.7" y="945.6" width="38" height="53.7" fill="#c9c9c9" filter="url(#bl3)"/>
<rect x="1359.7" y="945.6" width="38" height="53.7" fill="#c9c9c9" filter="url(#bl3)"/>
<rect x="1417.2" y="945.6" width="38" height="53.7" fill="#c9c9c9" filter="url(#bl3)"/>
<rect x="1475.5" y="945.6" width="38" height="53.7" fill="#c9c9c9" filter="url(#bl3)"/>
<rect x="1533.5" y="945.6" width="38" height="53.7" fill="#c9c9c9" filter="url(#bl3)"/>
<rect x="1302.7" y="972.20" width="42.0" height="6.0" rx="3.0" fill="#9d9d9d" filter="url(#bl2)"/>
<rect x="1357.7" y="975.20" width="42.0" height="6.0" rx="3.0" fill="#8c8c8c" filter="url(#bl2)"/>
<rect x="1415.2" y="974.60" width="42.0" height="6.0" rx="3.0" fill="#9a9a9a" filter="url(#bl2)"/>
<rect x="1473.5" y="971.40" width="42.0" height="6.0" rx="3.0" fill="#979797" filter="url(#bl2)" transform="rotate(-1 1494.5 974.4)"/>
<rect x="1531.5" y="967.40" width="42.0" height="6.0" rx="3.0" fill="#a8a8a8" filter="url(#bl2)" transform="rotate(-1 1552.5 970.4)"/>
</g>
<rect x="1296.2" y="953.6" width="281.8" height="37.7" fill="none" stroke="#000" stroke-width="1.8"/>
<clipPath id="bc3"><rect x="1296.2" y="996.2" width="281.8" height="62.7"/></clipPath>
<rect x="1296.2" y="996.2" width="281.8" height="62.7" fill="#dedede"/>
<g clip-path="url(#bc3)">
<rect x="1304.7" y="988.2" width="38" height="78.7" fill="#d8d8d8" filter="url(#bl3)"/>
<rect x="1359.7" y="988.2" width="38" height="78.7" fill="#d8d8d8" filter="url(#bl3)"/>
<rect x="1417.2" y="988.2" width="38" height="78.7" fill="#d8d8d8" filter="url(#bl3)"/>
<rect x="1475.5" y="988.2" width="38" height="78.7" fill="#d8d8d8" filter="url(#bl3)"/>
<rect x="1533.5" y="988.2" width="38" height="78.7" fill="#d8d8d8" filter="url(#bl3)"/>
<rect x="1302.7" y="1012.10" width="42.0" height="4.2" rx="2.1" fill="#b4b4b4" filter="url(#bl2)" transform="rotate(2 1323.7 1014.2)"/>
<rect x="1357.7" y="1014.20" width="42.0" height="4.2" rx="2.1" fill="#ababab" filter="url(#bl2)"/>
<rect x="1415.2" y="1012.90" width="42.0" height="4.2" rx="2.1" fill="#aeaeae" filter="url(#bl2)" transform="rotate(-1 1436.2 1015.0)"/>
<rect x="1473.5" y="1008.70" width="42.0" height="4.2" rx="2.1" fill="#a8a8a8" filter="url(#bl2)" transform="rotate(-3 1494.5 1010.8)"/>
<rect x="1531.5" y="1004.20" width="42.0" height="4.2" rx="2.1" fill="#b0b0b0" filter="url(#bl2)" transform="rotate(-3 1552.5 1006.3)"/>
<rect x="1301.7" y="1040.70" width="44.0" height="5.6" rx="2.8" fill="#9c9c9c" filter="url(#bl2)" transform="rotate(3 1323.7 1043.5)"/>
<rect x="1356.7" y="1042.00" width="44.0" height="5.6" rx="2.8" fill="#969696" filter="url(#bl2)"/>
<rect x="1414.2" y="1040.60" width="44.0" height="5.6" rx="2.8" fill="#9a9a9a" filter="url(#bl2)" transform="rotate(-1 1436.2 1043.4)"/>
<rect x="1472.5" y="1038.50" width="44.0" height="5.6" rx="2.8" fill="#8e8e8e" filter="url(#bl2)" transform="rotate(-3 1494.5 1041.3)"/>
<rect x="1530.5" y="1034.00" width="44.0" height="5.6" rx="2.8" fill="#949494" filter="url(#bl2)" transform="rotate(-4 1552.5 1036.8)"/>
</g>
<rect x="1296.2" y="996.2" width="281.8" height="62.7" fill="none" stroke="#000" stroke-width="1.8"/>
<clipPath id="bc4"><rect x="1295.8" y="1075.6" width="282.0" height="41.9"/></clipPath>
<rect x="1295.8" y="1075.6" width="282.0" height="41.9" fill="#d8d8d8"/>
<g clip-path="url(#bc4)">
<rect x="1303.5" y="1067.6" width="38" height="57.9" fill="#cbcbcb" filter="url(#bl3)"/>
<rect x="1357.8" y="1067.6" width="38" height="57.9" fill="#cbcbcb" filter="url(#bl3)"/>
<rect x="1413.4" y="1067.6" width="38" height="57.9" fill="#cbcbcb" filter="url(#bl3)"/>
<rect x="1470.7" y="1067.6" width="38" height="57.9" fill="#cbcbcb" filter="url(#bl3)"/>
<rect x="1528.1" y="1067.6" width="38" height="57.9" fill="#cbcbcb" filter="url(#bl3)"/>
<rect x="1303.0" y="1095.40" width="39.0" height="4.6" rx="2.3" fill="#4c4c4c" filter="url(#bl1)" transform="rotate(1 1322.5 1097.7)"/>
<rect x="1357.3" y="1097.10" width="39.0" height="4.6" rx="2.3" fill="#525252" filter="url(#bl1)"/>
<rect x="1412.9" y="1098.50" width="39.0" height="4.6" rx="2.3" fill="#3a3a3a" filter="url(#bl1)"/>
<rect x="1470.2" y="1097.50" width="39.0" height="4.6" rx="2.3" fill="#2e2e2e" filter="url(#bl1)"/>
<rect x="1527.6" y="1097.50" width="39.0" height="4.6" rx="2.3" fill="#2a2a2a" filter="url(#bl1)"/>
</g>
<rect x="1295.8" y="1075.6" width="282.0" height="41.9" fill="none" stroke="#000" stroke-width="1.8"/>
<clipPath id="bc5"><rect x="1295.8" y="1123.1" width="283.2" height="42.4"/></clipPath>
<rect x="1295.8" y="1123.1" width="283.2" height="42.4" fill="#e1e1e1"/>
<g clip-path="url(#bc5)">
<rect x="1300.7" y="1140.20" width="48.0" height="7.4" rx="3.7" fill="#6a6a6a" filter="url(#bl4)" transform="rotate(1 1324.7 1143.9)"/>
<rect x="1355.8" y="1141.90" width="48.0" height="7.4" rx="3.7" fill="#6a6a6a" filter="url(#bl4)" transform="rotate(1 1379.8 1145.6)"/>
<rect x="1411.4" y="1142.60" width="48.0" height="7.4" rx="3.7" fill="#6a6a6a" filter="url(#bl4)"/>
<rect x="1467.9" y="1142.60" width="48.0" height="7.4" rx="3.7" fill="#6a6a6a" filter="url(#bl4)"/>
<rect x="1524.4" y="1143.10" width="48.0" height="7.4" rx="3.7" fill="#6a6a6a" filter="url(#bl4)" transform="rotate(1 1548.4 1146.8)"/>
</g>
<rect x="1295.8" y="1123.1" width="283.2" height="42.4" fill="none" stroke="#000" stroke-width="1.8"/>
<clipPath id="bc6"><rect x="1295.8" y="1177.4" width="282.2" height="40.2"/></clipPath>
<rect x="1295.8" y="1177.4" width="282.2" height="40.2" fill="#d3d3d3"/>
<g clip-path="url(#bc6)">
<rect x="1303.5" y="1169.4" width="38" height="56.2" fill="#c7c7c7" filter="url(#bl3)"/>
<rect x="1359.5" y="1169.4" width="38" height="56.2" fill="#c7c7c7" filter="url(#bl3)"/>
<rect x="1418.5" y="1169.4" width="38" height="56.2" fill="#c7c7c7" filter="url(#bl3)"/>
<rect x="1475.5" y="1169.4" width="38" height="56.2" fill="#c7c7c7" filter="url(#bl3)"/>
<rect x="1533.5" y="1169.4" width="38" height="56.2" fill="#c7c7c7" filter="url(#bl3)"/>
<rect x="1303.0" y="1196.80" width="39.0" height="4.4" rx="2.2" fill="#adadad" filter="url(#bl2)"/>
<rect x="1359.0" y="1197.60" width="39.0" height="4.4" rx="2.2" fill="#a0a0a0" filter="url(#bl2)" transform="rotate(1 1378.5 1199.8)"/>
<rect x="1418.0" y="1197.00" width="39.0" height="4.4" rx="2.2" fill="#b0b0b0" filter="url(#bl2)"/>
<rect x="1475.0" y="1194.60" width="39.0" height="4.4" rx="2.2" fill="#6e6e6e" filter="url(#bl2)" transform="rotate(-2 1494.5 1196.8)"/>
<rect x="1533.0" y="1191.40" width="39.0" height="4.4" rx="2.2" fill="#a0a0a0" filter="url(#bl2)" transform="rotate(-6 1552.5 1193.6)"/>
</g>
<rect x="1295.8" y="1177.4" width="282.2" height="40.2" fill="none" stroke="#000" stroke-width="1.8"/>
<clipPath id="bc7"><rect x="1295.8" y="1223.8" width="283.2" height="64.1"/></clipPath>
<rect x="1295.8" y="1223.8" width="283.2" height="64.1" fill="#d9d9d9"/>
<g clip-path="url(#bc7)">
<rect x="1303.0" y="1244.50" width="39.0" height="3.4" rx="1.7" fill="#b2b2b2" filter="url(#bl2)" transform="rotate(1 1322.5 1246.2)"/>
<rect x="1359.0" y="1245.10" width="39.0" height="3.4" rx="1.7" fill="#b6b6b6" filter="url(#bl2)"/>
<rect x="1414.0" y="1244.90" width="39.0" height="3.4" rx="1.7" fill="#a4a4a4" filter="url(#bl2)" transform="rotate(-2 1433.5 1246.6)"/>
<rect x="1470.5" y="1242.10" width="39.0" height="3.4" rx="1.7" fill="#b0b0b0" filter="url(#bl2)" transform="rotate(-2 1490.0 1243.8)"/>
<rect x="1527.0" y="1238.90" width="39.0" height="3.4" rx="1.7" fill="#a6a6a6" filter="url(#bl2)" transform="rotate(-6 1546.5 1240.6)"/>
<rect x="1302.5" y="1277.90" width="40.0" height="4.6" rx="2.3" fill="#9e9e9e" filter="url(#bl2)"/>
<rect x="1358.5" y="1278.50" width="40.0" height="4.6" rx="2.3" fill="#9e9e9e" filter="url(#bl2)"/>
<rect x="1414.5" y="1277.70" width="40.0" height="4.6" rx="2.3" fill="#969696" filter="url(#bl2)" transform="rotate(-2 1434.5 1280.0)"/>
<rect x="1470.0" y="1275.50" width="40.0" height="4.6" rx="2.3" fill="#9e9e9e" filter="url(#bl2)" transform="rotate(-2 1490.0 1277.8)"/>
<rect x="1526.5" y="1272.70" width="40.0" height="4.6" rx="2.3" fill="#949494" filter="url(#bl2)" transform="rotate(-5 1546.5 1275.0)"/>
</g>
<rect x="1295.8" y="1223.8" width="283.2" height="64.1" fill="none" stroke="#000" stroke-width="1.8"/>
<text x="1589.0" y="884.0" font-size="28.16" textLength="77.52" lengthAdjust="spacingAndGlyphs" stroke="#000" stroke-width="0.6" stroke-linejoin="round">STAT3</text>
<text x="1589.0" y="933.0" font-size="28.16" textLength="94.04" lengthAdjust="spacingAndGlyphs" stroke="#000" stroke-width="0.6" stroke-linejoin="round">GAPDH</text>
<text x="1588.5" y="984.5" font-size="28.84" textLength="78.01" lengthAdjust="spacingAndGlyphs" stroke="#000" stroke-width="0.6" stroke-linejoin="round">STAT3</text>
<text x="1590.5" y="1019.5" font-size="26.75" textLength="101.02" lengthAdjust="spacingAndGlyphs" stroke="#000" stroke-width="0.6" stroke-linejoin="round">Lamin A</text>
<text x="1589.9" y="1050.0" font-size="26.75" textLength="103.02" lengthAdjust="spacingAndGlyphs" stroke="#000" stroke-width="0.6" stroke-linejoin="round">Lamin C</text>
<text x="1589.5" y="1106.5" font-size="28.16" textLength="78.51" lengthAdjust="spacingAndGlyphs" stroke="#000" stroke-width="0.6" stroke-linejoin="round">STAT3</text>
<text x="1590.5" y="1156.0" font-size="28.84" textLength="94.04" lengthAdjust="spacingAndGlyphs" stroke="#000" stroke-width="0.6" stroke-linejoin="round">GAPDH</text>
<text x="1592.1" y="1206.5" font-size="28.84" textLength="79.03" lengthAdjust="spacingAndGlyphs" stroke="#000" stroke-width="0.6" stroke-linejoin="round">STAT3</text>
<text x="1591.5" y="1244.7" font-size="26.07" textLength="100.52" lengthAdjust="spacingAndGlyphs" stroke="#000" stroke-width="0.6" stroke-linejoin="round">Lamin A</text>
<text x="1591.1" y="1275.8" font-size="27.44" textLength="102.01" lengthAdjust="spacingAndGlyphs" stroke="#000" stroke-width="0.6" stroke-linejoin="round">Lamin C</text>
</g>
</svg>
</body>
</html>
